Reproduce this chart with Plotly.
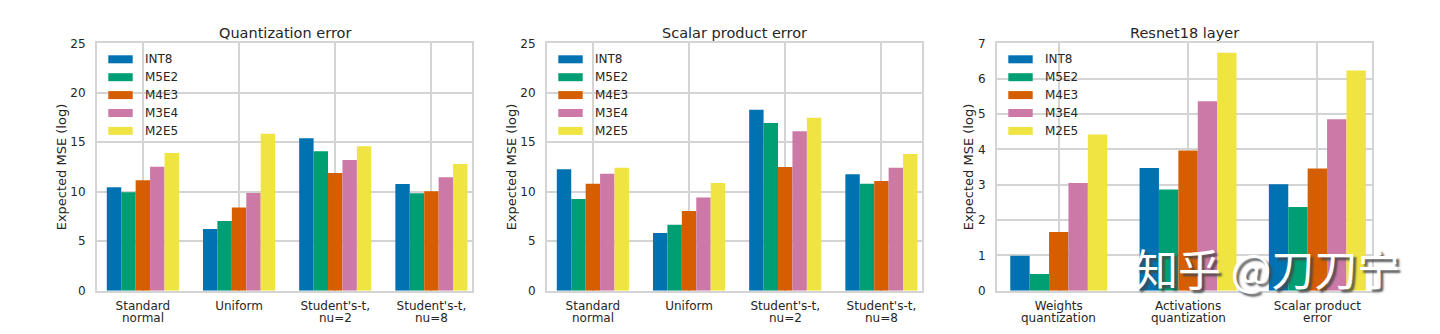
import plotly.graph_objects as go

# ---- data -------------------------------------------------------------
series_names = ["INT8", "M5E2", "M4E3", "M3E4", "M2E5"]
series_colors = ["#0072B2", "#009E73", "#D55E00", "#CC79A7", "#F0E442"]

dist_labels = ["Standard\nnormal", "Uniform", "Student's-t,\nnu=2", "Student's-t,\nnu=8"]
layer_labels = ["Weights\nquantization", "Activations\nquantization", "Scalar product\nerror"]

# Quantization error (expected MSE, log)
qe_int8 = [10.45, 6.23, 15.40, 10.78]
qe_m5e2 = [9.94, 7.04, 14.09, 9.84]
qe_m4e3 = [11.16, 8.42, 11.89, 10.04]
qe_m3e4 = [12.53, 9.87, 13.20, 11.46]
qe_m2e5 = [13.91, 15.87, 14.59, 12.80]

# Scalar product error (expected MSE, log)
sp_int8 = [12.27, 5.83, 18.29, 11.76]
sp_m5e2 = [9.27, 6.67, 16.95, 10.81]
sp_m4e3 = [10.81, 8.05, 12.50, 11.08]
sp_m3e4 = [11.82, 9.43, 16.10, 12.43]
sp_m2e5 = [12.43, 10.88, 17.48, 13.81]

# Resnet18 layer (expected MSE, log)
rn_int8 = [0.99, 3.47, 3.01]
rn_m5e2 = [0.47, 2.86, 2.37]
rn_m4e3 = [1.66, 3.97, 3.46]
rn_m3e4 = [3.05, 5.36, 4.85]
rn_m2e5 = [4.42, 6.73, 6.23]

panels = [
    ("Quantization error", dist_labels, [qe_int8, qe_m5e2, qe_m4e3, qe_m3e4, qe_m2e5], 25, 5),
    ("Scalar product error", dist_labels, [sp_int8, sp_m5e2, sp_m4e3, sp_m3e4, sp_m2e5], 25, 5),
    ("Resnet18 layer", layer_labels, [rn_int8, rn_m5e2, rn_m4e3, rn_m3e4, rn_m2e5], 7, 1),
]

# ---- styling ------------------------------------------------------------
W, H = 1440, 334
FONT = "DejaVu Sans"
TEXT = "#262626"
GRID = "#d4d4d4"
BAR_W = 0.15

plot_left = [96.7, 546.7, 996.7]
plot_w = 375.6
plot_top, plot_bottom = 43.3, 290.7
plot_h = plot_bottom - plot_top
y_dom = [(H - plot_bottom) / H, (H - plot_top) / H]

fig = go.Figure()
shapes = []
annotations = []

for p, (title, cats, values, ymax, ystep) in enumerate(panels):
    k = "" if p == 0 else str(p + 1)
    n = len(cats)
    for i, (name, color, vals) in enumerate(zip(series_names, series_colors, values)):
        xs = [c + (i - 2) * BAR_W for c in range(n)]
        fig.add_trace(go.Bar(
            x=xs, y=vals, width=BAR_W, name=name,
            marker=dict(color=color, line=dict(width=0)),
            xaxis="x" + k, yaxis="y" + k, showlegend=False,
        ))

    first_lines = [c.split("\n")[0] for c in cats]

    x0 = plot_left[p] / W
    x1 = (plot_left[p] + plot_w) / W
    axis_common = dict(
        showgrid=True, gridcolor=GRID, gridwidth=1.5,
        showline=True, linecolor=GRID, linewidth=1.5, mirror=True,
        zeroline=False, ticks="", automargin=False,
        tickfont=dict(family=FONT, size=12, color=TEXT),
    )
    fig.update_layout(**{
        "xaxis" + k: dict(
            domain=[x0, x1], anchor="y" + k,
            range=[-0.48, n - 1 + 0.425],
            tickmode="array", tickvals=list(range(n)), ticktext=first_lines,
            ticklabelstandoff=3,
            **axis_common,
        ),
        "yaxis" + k: dict(
            domain=y_dom, anchor="x" + k,
            range=[0, ymax], tickmode="linear", tick0=0, dtick=ystep,
            ticklabelstandoff=7,
            title=dict(text="Expected MSE (log)", standoff=1,
                       font=dict(family=FONT, size=13, color=TEXT)),
            **axis_common,
        ),
    })

    # second line of the category labels, set tighter than <br> spacing
    for c, label in enumerate(cats):
        parts = label.split("\n")
        if len(parts) > 1:
            annotations.append(dict(
                text=parts[1], xref="x" + k, yref=f"y{k} domain",
                x=c, y=0, xanchor="center", yanchor="middle", yshift=-27.5,
                showarrow=False, font=dict(family=FONT, size=12, color=TEXT),
            ))

    # panel title
    annotations.append(dict(
        text=title, xref=f"x{k} domain", yref=f"y{k} domain",
        x=0.5, y=1, xanchor="center", yanchor="bottom", yshift=0,
        showarrow=False, font=dict(family=FONT, size=14.5, color=TEXT),
    ))

    # legend: wide colour patches with labels, upper left
    patch_x0, patch_x1 = 11.6 / plot_w, 36.0 / plot_w
    label_x = 46.0 / plot_w
    patch_h = 8.0 / plot_h
    for i, (name, color) in enumerate(zip(series_names, series_colors)):
        yc = 1 - (16.0 + i * 17.9) / plot_h
        shapes.append(dict(
            type="rect", xref=f"x{k} domain", yref=f"y{k} domain",
            x0=patch_x0, x1=patch_x1, y0=yc - patch_h / 2, y1=yc + patch_h / 2,
            fillcolor=color, line=dict(width=0), layer="above",
        ))
        annotations.append(dict(
            text=name, xref=f"x{k} domain", yref=f"y{k} domain",
            x=label_x, y=yc, xanchor="left", yanchor="middle",
            showarrow=False, font=dict(family=FONT, size=12, color=TEXT),
        ))

# watermark
annotations.append(dict(
    text="知乎 @刀刀宁", xref="paper", yref="paper",
    x=1133 / W, y=(H - 267) / H, xanchor="left", yanchor="middle",
    showarrow=False,
    font=dict(family="Noto Sans CJK SC", size=43, color="white",
              shadow="3px 3px 2px rgba(70,70,70,0.85)"),
))

fig.update_layout(
    width=W, height=H,
    margin=dict(l=0, r=0, t=0, b=0),
    paper_bgcolor="white", plot_bgcolor="white",
    barmode="overlay", showlegend=False,
    shapes=shapes, annotations=annotations,
    font=dict(family=FONT, color=TEXT),
)

fig.write_html("out.html")
